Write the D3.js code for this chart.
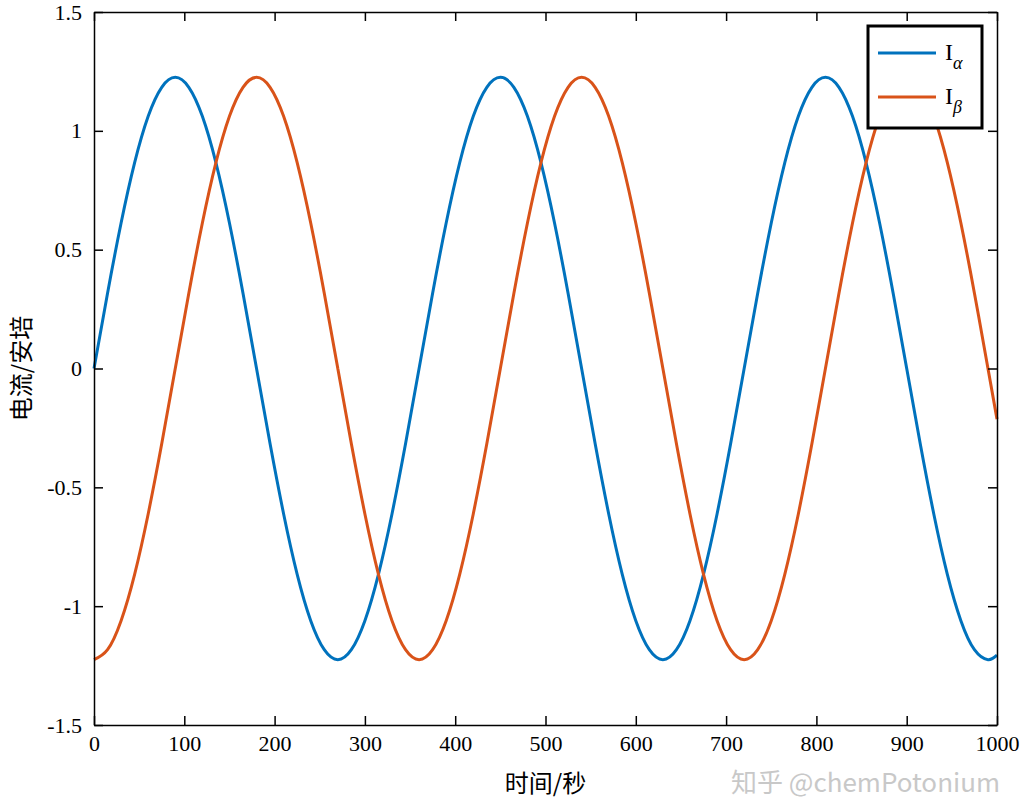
<!DOCTYPE html>
<html><head><meta charset="utf-8">
<script src="https://cdn.jsdelivr.net/npm/d3@7"></script>
<style>body{margin:0;background:#fff}</style></head>
<body><svg id="c" width="1027" height="802"></svg>
<script>
const times = [0,15,30,45,60,75,90,105,120,135,150,165,180,195,210,225,240,255,270,285,300,315,330,345,
360,375,390,405,420,435,450,465,480,495,510,525,540,555,570,585,600,615,630,645,660,675,690,705,
720,735,750,765,780,795,810,825,840,855,870,885,900,915,930,945,960,975,990,1000];
const iAlpha = [0,0.317,0.612,0.866,1.061,1.183,1.225,1.183,1.061,0.866,0.612,0.317,0,-0.317,-0.612,-0.866,-1.061,-1.183,-1.225,-1.183,-1.061,-0.866,-0.612,-0.317,
0,0.317,0.612,0.866,1.061,1.183,1.225,1.183,1.061,0.866,0.612,0.317,0,-0.317,-0.612,-0.866,-1.061,-1.183,-1.225,-1.183,-1.061,-0.866,-0.612,-0.317,
0,0.317,0.612,0.866,1.061,1.183,1.225,1.183,1.061,0.866,0.612,0.317,0,-0.317,-0.612,-0.866,-1.061,-1.183,-1.225,-1.206];
const iBeta = [-1.225,-1.183,-1.061,-0.866,-0.612,-0.317,0,0.317,0.612,0.866,1.061,1.183,1.225,1.183,1.061,0.866,0.612,0.317,0,-0.317,-0.612,-0.866,-1.061,-1.183,
-1.225,-1.183,-1.061,-0.866,-0.612,-0.317,0,0.317,0.612,0.866,1.061,1.183,1.225,1.183,1.061,0.866,0.612,0.317,0,-0.317,-0.612,-0.866,-1.061,-1.183,
-1.225,-1.183,-1.061,-0.866,-0.612,-0.317,0,0.317,0.612,0.866,1.061,1.183,1.225,1.183,1.061,0.866,0.612,0.317,0,-0.213];
const xTicks = [0,100,200,300,400,500,600,700,800,900,1000];
const yTicks = [-1.5,-1,-0.5,0,0.5,1,1.5];
const colors = ["#0072BD","#D95319"];

const svg = d3.select("#c");
const L=94,R=997,T=12,B=725;
const x = d3.scaleLinear().domain([0,1000]).range([L,R]);
const y = d3.scaleLinear().domain([-1.5,1.5]).range([B,T]);
const font = "'Liberation Serif','DejaVu Serif',serif";

const line = d3.line().x((d,i)=>x(times[i])).y(d=>y(d)).curve(d3.curveNatural);
[iAlpha,iBeta].forEach((s,k)=>svg.append("path").attr("d",line(s)).attr("fill","none")
  .attr("stroke",colors[k]).attr("stroke-width",3));

const ax = (g,a)=>g.call(a).call(g=>g.select(".domain").attr("stroke","#000").attr("stroke-width",1.5))
  .call(g=>g.selectAll("text").attr("font-family",font).attr("font-size",22).attr("fill","#000"))
  .call(g=>g.selectAll(".tick line").attr("stroke","#000").attr("stroke-width",1.5));
const fmt = d=>String(d);
ax(svg.append("g").attr("transform",`translate(0,${B})`),d3.axisBottom(x).tickValues(xTicks).tickFormat(fmt).tickSizeInner(-9).tickSizeOuter(0).tickPadding(10));
ax(svg.append("g").attr("transform",`translate(0,${T})`),d3.axisTop(x).tickValues(xTicks).tickFormat("").tickSizeInner(-9).tickSizeOuter(0));
ax(svg.append("g").attr("transform",`translate(${L},0)`),d3.axisLeft(y).tickValues(yTicks).tickFormat(fmt).tickSizeInner(-9).tickSizeOuter(0).tickPadding(12));
ax(svg.append("g").attr("transform",`translate(${R},0)`),d3.axisRight(y).tickValues(yTicks).tickFormat("").tickSizeInner(-9).tickSizeOuter(0));

svg.append("text").attr("x",(L+R)/2).attr("y",792).attr("text-anchor","middle")
  .attr("font-family","'Noto Sans CJK SC',serif").attr("font-size",24).text("时间/秒");
svg.append("text").attr("transform",`translate(30,${(T+B)/2}) rotate(-90)`).attr("text-anchor","middle")
  .attr("font-family","'Noto Sans CJK SC',serif").attr("font-size",24).text("电流/安培");

const lg = svg.append("g");
lg.append("rect").attr("x",868).attr("y",26).attr("width",114).attr("height",102).attr("fill","#fff").attr("stroke","#000").attr("stroke-width",3);
["α","β"].forEach((s,k)=>{
  const yy = 53+k*44;
  lg.append("line").attr("x1",878).attr("x2",936).attr("y1",yy).attr("y2",yy).attr("stroke",colors[k]).attr("stroke-width",3);
  const t = lg.append("text").attr("x",945).attr("y",yy+7).attr("font-family",font).attr("font-size",24);
  t.append("tspan").text("I");
  t.append("tspan").attr("dy",9).attr("font-size",18).attr("font-style","italic").text(s);
});

svg.append("text").attr("x",1000).attr("y",792).attr("text-anchor","end").attr("font-family","'Noto Sans CJK SC',sans-serif")
  .attr("font-size",26).attr("fill","#bbb").attr("opacity",0.8).text("知乎 @chemPotonium");
</script></body></html>
